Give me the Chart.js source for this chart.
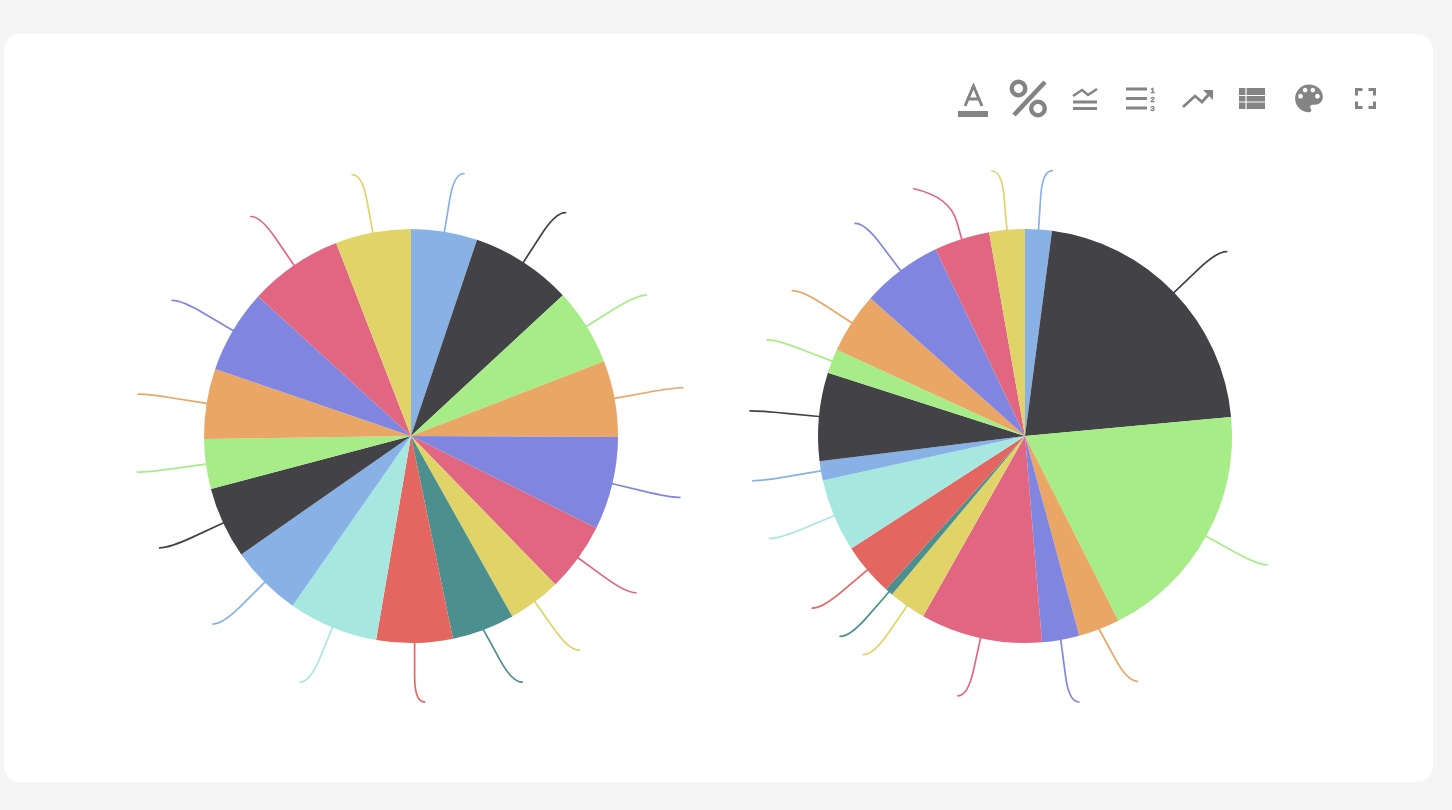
<!DOCTYPE html>
<html>
<head>
<meta charset="utf-8">
<title>Pie charts</title>
<script src="https://cdn.jsdelivr.net/npm/chart.js@4/dist/chart.umd.min.js"></script>
<style>
html, body { margin: 0; height: 100%; background: #f5f5f5; overflow: hidden; }
#card { position: absolute; left: 4px; top: 34px; width: 1429px; height: 748px; background: #fff; border-radius: 16px; }
canvas { position: absolute; }
#left { left: 111px; top: 136px; }
#right { left: 725px; top: 136px; }
#tools { position: absolute; left: 0; top: 0; }
</style>
</head>
<body>
<div id="card"></div>
<canvas id="left" width="600" height="600"></canvas>
<canvas id="right" width="600" height="600"></canvas>
<svg id="tools" width="1452" height="810" fill="none" stroke="#848484" stroke-width="3">
    <!-- text style -->
    <path d="M965 106 L973.500 86 L982 106 M968 99 H979" stroke-width="3"/>
    <rect x="958" y="111" width="30" height="6" fill="#848484" stroke="none"/>
    <!-- percent -->
    <circle cx="1018.500" cy="88.500" r="6.800" stroke-width="4.400"/>
    <circle cx="1038" cy="108.500" r="6.800" stroke-width="4.400"/>
    <path d="M1045 82 L1014 115" stroke-width="4.600"/>
    <!-- stack -->
    <path d="M1073 96 L1082 90 L1088 95 L1097 89" stroke-width="2.500"/>
    <path d="M1073 102 H1097 M1073 108.500 H1097"/>
    <!-- sort -->
    <path d="M1126 89 H1147 M1126 98.500 H1147 M1126 108 H1147"/>
    <g fill="#848484" stroke="#848484" stroke-width="0.400" font-family="Liberation Sans" font-size="7.500" font-weight="bold" text-anchor="middle">
        <text x="1152.500" y="93">1</text>
        <text x="1152.500" y="102">2</text>
        <text x="1152.500" y="111">3</text>
    </g>
    <!-- trend -->
    <path d="M1183 107 L1195 96 L1202 102 L1210 93" stroke-width="2.800"/>
    <path d="M1203 90 H1213 V100 Z" fill="#848484" stroke="none"/>
    <!-- table -->
    <path d="M1239 88 H1265 V95 H1239 Z M1239 96 H1265 V101.500 H1239 Z M1239 102.500 H1265 V109 H1239 Z" fill="#848484" stroke="none"/>
    <path d="M1246 88 V109" stroke="#fff" stroke-width="1.200"/>
    <!-- palette -->
    <path transform="translate(1290.500,80) scale(1.540)" fill="#848484" stroke="none" fill-rule="evenodd" d="M12 3a9 9 0 0 0 0 18c.83 0 1.5-.67 1.5-1.5 0-.39-.15-.74-.39-1.01-.23-.26-.38-.61-.38-.99 0-.83.67-1.5 1.5-1.5H16c2.76 0 5-2.24 5-5 0-4.42-4.03-8-9-8zm-5.5 9c-.83 0-1.5-.67-1.5-1.5S5.67 9 6.500 9 8 9.670 8 10.500 7.330 12 6.500 12zm3-4C8.670 8 8 7.330 8 6.500S8.670 5 9.500 5s1.500.67 1.500 1.500S10.330 8 9.500 8zm5 0c-.83 0-1.500-.67-1.500-1.500S13.670 5 14.500 5s1.500.67 1.500 1.500S15.330 8 14.500 8zm3 4c-.83 0-1.500-.67-1.500-1.500S16.670 9 17.500 9s1.500.67 1.500 1.500-.67 1.500-1.500 1.500z"/>
    <!-- fullscreen -->
    <path d="M1356.500 95.500 V89.500 H1362.500 M1368.500 89.500 H1374.500 V95.500 M1374.500 101.500 V107.500 H1368.500 M1362.500 107.500 H1356.500 V101.500"/>
</svg>
<script>
const categories = ['a', 'b', 'c', 'd', 'e', 'f', 'g', 'h', 'i', 'j', 'k', 'l', 'm', 'n', 'o', 'p', 'q']
const leftValues = [18.6, 28.6, 21.6, 21.5, 26.1, 19.4, 14.9, 17.6, 21.4, 25.2, 20.2, 20.1, 14, 19.7, 23.5, 26.4, 21.2]
const rightValues = [7.5, 77.2, 68.5, 11.6, 10.5, 34.2, 10.5, 2.2, 14.9, 20.5, 5.4, 24.8, 6.8, 17.1, 22.7, 15.6, 10]
const colors = ['#88b2e6', '#434347', '#a6ed87', '#eaa664', '#8086e0', '#e06681', '#e0d468', '#4b8f8e', '#e36660', '#a6e8e0',
    '#88b2e6', '#434347', '#a6ed87', '#eaa664', '#8086e0', '#e06681', '#e0d468']

// leader lines go out radially, then sideways, with a long soft bend
const leaderLength = 59
const leaderTail = 10
const leaderBend = 26

const leaderLines = {
    id: 'leaderLines',
    afterDatasetsDraw(chart, args, opts) {
        const ctx = chart.ctx
        const arcs = chart.getDatasetMeta(0).data
        ctx.save()
        ctx.lineWidth = 1.7
        ctx.lineCap = 'round'
        arcs.forEach((arc, i) => {
            const { x, y, startAngle, endAngle, outerRadius } = arc.getProps(['x', 'y', 'startAngle', 'endAngle', 'outerRadius'])
            const mid = (startAngle + endAngle) / 2
            const cos = Math.cos(mid)
            const sin = Math.sin(mid)
            // some labels got pushed aside: [corner dx, corner dy, end dx, end dy]
            const nudge = opts.nudges[i] || [0, 0, 0, 0]
            const x0 = x + cos * outerRadius
            const y0 = y + sin * outerRadius
            const x1 = x + cos * (outerRadius + leaderLength) + nudge[0]
            const y1 = y + sin * (outerRadius + leaderLength) + nudge[1]
            const x2 = x1 + (cos >= 0 ? leaderTail : -leaderTail) + nudge[2]
            const y2 = y1 + nudge[3]
            const len = Math.hypot(x1 - x0, y1 - y0)
            const bend = Math.min(leaderBend, len * 0.6)
            const mx = x1 + (x0 - x1) * bend / len
            const my = y1 + (y0 - y1) * bend / len
            ctx.strokeStyle = colors[i]
            ctx.beginPath()
            ctx.moveTo(x0, y0)
            ctx.lineTo(mx, my)
            ctx.quadraticCurveTo(x1, y1, x2, y2)
            ctx.stroke()
        })
        ctx.restore()
    }
}

function drawPie(id, values, nudges) {
    const ctx = document.getElementById(id).getContext('2d')
    return new Chart(ctx, {
        type: 'pie',
        data: {
            labels: categories,
            datasets: [{
                data: values,
                backgroundColor: colors,
                borderWidth: 0,
            }]
        },
        plugins: [leaderLines],
        options: {
            responsive: false,
            animation: false,
            devicePixelRatio: 1,
            radius: 207,
            plugins: {
                legend: { display: false },
                tooltip: { enabled: false },
                leaderLines: { nudges: nudges },
            }
        }
    })
}

drawPie('left', leftValues, { 6: [-1, 1, 0, 0], 7: [8, -3, 0, 0], 8: [-1, 0, 0, 0] })
drawPie('right', rightValues, { 3: [7, -3, 0, 0], 4: [-2, 4, 0, 0], 15: [6, 14, -26, -8] })
</script>
</body>
</html>
